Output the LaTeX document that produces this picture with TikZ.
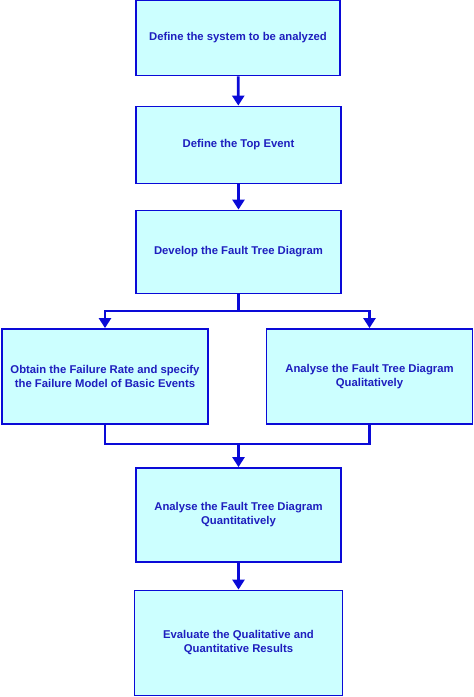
\documentclass[tikz,border=0pt]{standalone}
\usepackage{fontspec}
\setmainfont{Liberation Sans}
\usepackage{xcolor}
\usetikzlibrary{arrows.meta}
\definecolor{flowblue}{RGB}{10,10,215}
\definecolor{textblue}{RGB}{30,30,190}
\definecolor{boxcyan}{RGB}{204,255,255}

\begin{document}
\begin{tikzpicture}[x=1pt, y=-1pt,
    stepbox/.style={draw=flowblue, fill=boxcyan, line width=1.8pt, align=center,
        text=textblue, font=\fontsize{11.3}{14}\selectfont\bfseries, inner sep=0pt},
    flow/.style={draw=flowblue, line width=2.8pt, -{Triangle[width=12pt,length=10pt]}},
    link/.style={draw=flowblue, line width=2.8pt}]
    % Page frame
    \useasboundingbox (0,0) rectangle (474,697);

    % Main column
    \node[stepbox, minimum width=204pt, minimum height=75pt] (sys) at (238,38) {Define the system to be analyzed};
    \node[stepbox, minimum width=205pt, minimum height=77pt] (topev) at (238.5,145) {Define the Top Event};
    \node[stepbox, minimum width=205pt, minimum height=83pt] (ftd) at (238.5,252) {Develop the Fault Tree Diagram};

    % Two parallel steps
    \node[stepbox, minimum width=206pt, minimum height=95pt] (rate) at (105,376.5) {Obtain the Failure Rate and specify\\the Failure Model of Basic Events};
    \node[stepbox, minimum width=206pt, minimum height=95pt] (qual) at (369.5,376.5) {Analyse the Fault Tree Diagram\\Qualitatively};

    % Lower column
    \node[stepbox, minimum width=205pt, minimum height=94pt] (quant) at (238.5,515) {Analyse the Fault Tree Diagram\\Quantitatively};
    \node[stepbox, minimum width=208pt, minimum height=105pt] (eval) at (238.5,643) {Evaluate the Qualitative and\\Quantitative Results};

    % Split and merge points
    \coordinate (split) at (238.5,311);
    \coordinate (merge) at (238.5,444);

    % Connectors
    \draw[flow] (sys) -- (topev);
    \draw[flow] (topev) -- (ftd);
    \draw[link] (ftd.south) -- (split);
    \draw[flow] (split) -| (rate.north);
    \draw[flow] (split) -| (qual.north);
    \draw[link] (rate.south) |- (merge) -| (qual.south);
    \draw[flow] (merge) -- (quant.north);
    \draw[flow] (quant) -- (eval);
\end{tikzpicture}
\end{document}
